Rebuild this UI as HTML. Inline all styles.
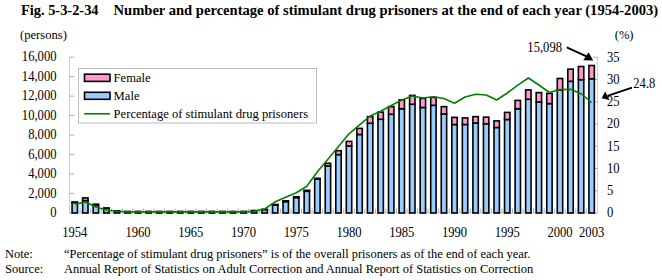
<!DOCTYPE html>
<html><head><meta charset="utf-8"><style>
html,body{margin:0;padding:0;background:#fff;width:662px;height:280px;overflow:hidden}
svg{display:block;font-family:"Liberation Serif",serif;fill:#000}
</style></head><body>
<svg width="662" height="280" viewBox="0 0 662 280">
<line x1="69.5" y1="57.2" x2="69.5" y2="213.0" stroke="#D0D0D0" stroke-width="1"/>
<line x1="597.5" y1="57.2" x2="597.5" y2="213.0" stroke="#D0D0D0" stroke-width="1"/>
<line x1="69.5" y1="213.0" x2="597.5" y2="213.0" stroke="#D0D0D0" stroke-width="1"/>
<line x1="69.5" y1="213.00" x2="74.0" y2="213.00" stroke="#ABABAB" stroke-width="1"/>
<line x1="69.5" y1="193.53" x2="74.0" y2="193.53" stroke="#ABABAB" stroke-width="1"/>
<line x1="69.5" y1="174.05" x2="74.0" y2="174.05" stroke="#ABABAB" stroke-width="1"/>
<line x1="69.5" y1="154.57" x2="74.0" y2="154.57" stroke="#ABABAB" stroke-width="1"/>
<line x1="69.5" y1="135.10" x2="74.0" y2="135.10" stroke="#ABABAB" stroke-width="1"/>
<line x1="69.5" y1="115.62" x2="74.0" y2="115.62" stroke="#ABABAB" stroke-width="1"/>
<line x1="69.5" y1="96.15" x2="74.0" y2="96.15" stroke="#ABABAB" stroke-width="1"/>
<line x1="69.5" y1="76.67" x2="74.0" y2="76.67" stroke="#ABABAB" stroke-width="1"/>
<line x1="69.5" y1="57.20" x2="74.0" y2="57.20" stroke="#ABABAB" stroke-width="1"/>
<line x1="593.0" y1="213.00" x2="597.5" y2="213.00" stroke="#ABABAB" stroke-width="1"/>
<line x1="593.0" y1="190.74" x2="597.5" y2="190.74" stroke="#ABABAB" stroke-width="1"/>
<line x1="593.0" y1="168.49" x2="597.5" y2="168.49" stroke="#ABABAB" stroke-width="1"/>
<line x1="593.0" y1="146.23" x2="597.5" y2="146.23" stroke="#ABABAB" stroke-width="1"/>
<line x1="593.0" y1="123.97" x2="597.5" y2="123.97" stroke="#ABABAB" stroke-width="1"/>
<line x1="593.0" y1="101.71" x2="597.5" y2="101.71" stroke="#ABABAB" stroke-width="1"/>
<line x1="593.0" y1="79.46" x2="597.5" y2="79.46" stroke="#ABABAB" stroke-width="1"/>
<line x1="593.0" y1="57.20" x2="597.5" y2="57.20" stroke="#ABABAB" stroke-width="1"/>
<line x1="80.05" y1="208.5" x2="80.05" y2="213.0" stroke="#ABABAB" stroke-width="1"/>
<line x1="90.60" y1="208.5" x2="90.60" y2="213.0" stroke="#ABABAB" stroke-width="1"/>
<line x1="101.14" y1="208.5" x2="101.14" y2="213.0" stroke="#ABABAB" stroke-width="1"/>
<line x1="111.69" y1="208.5" x2="111.69" y2="213.0" stroke="#ABABAB" stroke-width="1"/>
<line x1="122.24" y1="208.5" x2="122.24" y2="213.0" stroke="#ABABAB" stroke-width="1"/>
<line x1="132.79" y1="208.5" x2="132.79" y2="213.0" stroke="#ABABAB" stroke-width="1"/>
<line x1="143.34" y1="208.5" x2="143.34" y2="213.0" stroke="#ABABAB" stroke-width="1"/>
<line x1="153.88" y1="208.5" x2="153.88" y2="213.0" stroke="#ABABAB" stroke-width="1"/>
<line x1="164.43" y1="208.5" x2="164.43" y2="213.0" stroke="#ABABAB" stroke-width="1"/>
<line x1="174.98" y1="208.5" x2="174.98" y2="213.0" stroke="#ABABAB" stroke-width="1"/>
<line x1="185.53" y1="208.5" x2="185.53" y2="213.0" stroke="#ABABAB" stroke-width="1"/>
<line x1="196.08" y1="208.5" x2="196.08" y2="213.0" stroke="#ABABAB" stroke-width="1"/>
<line x1="206.62" y1="208.5" x2="206.62" y2="213.0" stroke="#ABABAB" stroke-width="1"/>
<line x1="217.17" y1="208.5" x2="217.17" y2="213.0" stroke="#ABABAB" stroke-width="1"/>
<line x1="227.72" y1="208.5" x2="227.72" y2="213.0" stroke="#ABABAB" stroke-width="1"/>
<line x1="238.27" y1="208.5" x2="238.27" y2="213.0" stroke="#ABABAB" stroke-width="1"/>
<line x1="248.82" y1="208.5" x2="248.82" y2="213.0" stroke="#ABABAB" stroke-width="1"/>
<line x1="259.36" y1="208.5" x2="259.36" y2="213.0" stroke="#ABABAB" stroke-width="1"/>
<line x1="269.91" y1="208.5" x2="269.91" y2="213.0" stroke="#ABABAB" stroke-width="1"/>
<line x1="280.46" y1="208.5" x2="280.46" y2="213.0" stroke="#ABABAB" stroke-width="1"/>
<line x1="291.01" y1="208.5" x2="291.01" y2="213.0" stroke="#ABABAB" stroke-width="1"/>
<line x1="301.56" y1="208.5" x2="301.56" y2="213.0" stroke="#ABABAB" stroke-width="1"/>
<line x1="312.10" y1="208.5" x2="312.10" y2="213.0" stroke="#ABABAB" stroke-width="1"/>
<line x1="322.65" y1="208.5" x2="322.65" y2="213.0" stroke="#ABABAB" stroke-width="1"/>
<line x1="333.20" y1="208.5" x2="333.20" y2="213.0" stroke="#ABABAB" stroke-width="1"/>
<line x1="343.75" y1="208.5" x2="343.75" y2="213.0" stroke="#ABABAB" stroke-width="1"/>
<line x1="354.30" y1="208.5" x2="354.30" y2="213.0" stroke="#ABABAB" stroke-width="1"/>
<line x1="364.84" y1="208.5" x2="364.84" y2="213.0" stroke="#ABABAB" stroke-width="1"/>
<line x1="375.39" y1="208.5" x2="375.39" y2="213.0" stroke="#ABABAB" stroke-width="1"/>
<line x1="385.94" y1="208.5" x2="385.94" y2="213.0" stroke="#ABABAB" stroke-width="1"/>
<line x1="396.49" y1="208.5" x2="396.49" y2="213.0" stroke="#ABABAB" stroke-width="1"/>
<line x1="407.04" y1="208.5" x2="407.04" y2="213.0" stroke="#ABABAB" stroke-width="1"/>
<line x1="417.58" y1="208.5" x2="417.58" y2="213.0" stroke="#ABABAB" stroke-width="1"/>
<line x1="428.13" y1="208.5" x2="428.13" y2="213.0" stroke="#ABABAB" stroke-width="1"/>
<line x1="438.68" y1="208.5" x2="438.68" y2="213.0" stroke="#ABABAB" stroke-width="1"/>
<line x1="449.23" y1="208.5" x2="449.23" y2="213.0" stroke="#ABABAB" stroke-width="1"/>
<line x1="459.78" y1="208.5" x2="459.78" y2="213.0" stroke="#ABABAB" stroke-width="1"/>
<line x1="470.32" y1="208.5" x2="470.32" y2="213.0" stroke="#ABABAB" stroke-width="1"/>
<line x1="480.87" y1="208.5" x2="480.87" y2="213.0" stroke="#ABABAB" stroke-width="1"/>
<line x1="491.42" y1="208.5" x2="491.42" y2="213.0" stroke="#ABABAB" stroke-width="1"/>
<line x1="501.97" y1="208.5" x2="501.97" y2="213.0" stroke="#ABABAB" stroke-width="1"/>
<line x1="512.52" y1="208.5" x2="512.52" y2="213.0" stroke="#ABABAB" stroke-width="1"/>
<line x1="523.06" y1="208.5" x2="523.06" y2="213.0" stroke="#ABABAB" stroke-width="1"/>
<line x1="533.61" y1="208.5" x2="533.61" y2="213.0" stroke="#ABABAB" stroke-width="1"/>
<line x1="544.16" y1="208.5" x2="544.16" y2="213.0" stroke="#ABABAB" stroke-width="1"/>
<line x1="554.71" y1="208.5" x2="554.71" y2="213.0" stroke="#ABABAB" stroke-width="1"/>
<line x1="565.26" y1="208.5" x2="565.26" y2="213.0" stroke="#ABABAB" stroke-width="1"/>
<line x1="575.80" y1="208.5" x2="575.80" y2="213.0" stroke="#ABABAB" stroke-width="1"/>
<line x1="586.35" y1="208.5" x2="586.35" y2="213.0" stroke="#ABABAB" stroke-width="1"/>
<rect x="72.07" y="202.50" width="5.4" height="10.50" fill="#99CCFF" stroke="#000" stroke-width="1.6"/>
<rect x="72.07" y="202.10" width="5.4" height="0.40" fill="#FF99CC" stroke="#000" stroke-width="1.6"/>
<rect x="82.62" y="200.60" width="5.4" height="12.40" fill="#99CCFF" stroke="#000" stroke-width="1.6"/>
<rect x="82.62" y="197.90" width="5.4" height="2.70" fill="#FF99CC" stroke="#000" stroke-width="1.6"/>
<rect x="93.17" y="205.40" width="5.4" height="7.60" fill="#99CCFF" stroke="#000" stroke-width="1.6"/>
<rect x="93.17" y="204.20" width="5.4" height="1.20" fill="#FF99CC" stroke="#000" stroke-width="1.6"/>
<rect x="103.72" y="208.20" width="5.4" height="4.80" fill="#99CCFF" stroke="#000" stroke-width="1.6"/>
<rect x="103.72" y="208.10" width="5.4" height="0.10" fill="#FF99CC" stroke="#000" stroke-width="1.6"/>
<rect x="114.27" y="210.80" width="5.4" height="2.20" fill="#99CCFF" stroke="#000" stroke-width="1.6"/>
<rect x="124.81" y="211.40" width="5.4" height="1.60" fill="#99CCFF" stroke="#000" stroke-width="1.6"/>
<rect x="135.36" y="211.40" width="5.4" height="1.60" fill="#99CCFF" stroke="#000" stroke-width="1.6"/>
<rect x="145.91" y="211.40" width="5.4" height="1.60" fill="#99CCFF" stroke="#000" stroke-width="1.6"/>
<rect x="156.46" y="211.40" width="5.4" height="1.60" fill="#99CCFF" stroke="#000" stroke-width="1.6"/>
<rect x="167.01" y="211.40" width="5.4" height="1.60" fill="#99CCFF" stroke="#000" stroke-width="1.6"/>
<rect x="177.55" y="211.40" width="5.4" height="1.60" fill="#99CCFF" stroke="#000" stroke-width="1.6"/>
<rect x="188.10" y="211.40" width="5.4" height="1.60" fill="#99CCFF" stroke="#000" stroke-width="1.6"/>
<rect x="198.65" y="211.40" width="5.4" height="1.60" fill="#99CCFF" stroke="#000" stroke-width="1.6"/>
<rect x="209.20" y="211.40" width="5.4" height="1.60" fill="#99CCFF" stroke="#000" stroke-width="1.6"/>
<rect x="219.75" y="211.40" width="5.4" height="1.60" fill="#99CCFF" stroke="#000" stroke-width="1.6"/>
<rect x="230.29" y="211.40" width="5.4" height="1.60" fill="#99CCFF" stroke="#000" stroke-width="1.6"/>
<rect x="240.84" y="211.40" width="5.4" height="1.60" fill="#99CCFF" stroke="#000" stroke-width="1.6"/>
<rect x="251.39" y="210.50" width="5.4" height="2.50" fill="#99CCFF" stroke="#000" stroke-width="1.6"/>
<rect x="261.94" y="209.60" width="5.4" height="3.40" fill="#99CCFF" stroke="#000" stroke-width="1.6"/>
<rect x="261.94" y="209.40" width="5.4" height="0.20" fill="#FF99CC" stroke="#000" stroke-width="1.6"/>
<rect x="272.49" y="205.20" width="5.4" height="7.80" fill="#99CCFF" stroke="#000" stroke-width="1.6"/>
<rect x="272.49" y="204.40" width="5.4" height="0.80" fill="#FF99CC" stroke="#000" stroke-width="1.6"/>
<rect x="283.03" y="201.60" width="5.4" height="11.40" fill="#99CCFF" stroke="#000" stroke-width="1.6"/>
<rect x="283.03" y="200.80" width="5.4" height="0.80" fill="#FF99CC" stroke="#000" stroke-width="1.6"/>
<rect x="293.58" y="197.60" width="5.4" height="15.40" fill="#99CCFF" stroke="#000" stroke-width="1.6"/>
<rect x="293.58" y="196.70" width="5.4" height="0.90" fill="#FF99CC" stroke="#000" stroke-width="1.6"/>
<rect x="304.13" y="191.30" width="5.4" height="21.70" fill="#99CCFF" stroke="#000" stroke-width="1.6"/>
<rect x="304.13" y="190.30" width="5.4" height="1.00" fill="#FF99CC" stroke="#000" stroke-width="1.6"/>
<rect x="314.68" y="179.00" width="5.4" height="34.00" fill="#99CCFF" stroke="#000" stroke-width="1.6"/>
<rect x="314.68" y="178.30" width="5.4" height="0.70" fill="#FF99CC" stroke="#000" stroke-width="1.6"/>
<rect x="325.23" y="166.00" width="5.4" height="47.00" fill="#99CCFF" stroke="#000" stroke-width="1.6"/>
<rect x="325.23" y="163.30" width="5.4" height="2.70" fill="#FF99CC" stroke="#000" stroke-width="1.6"/>
<rect x="335.77" y="154.60" width="5.4" height="58.40" fill="#99CCFF" stroke="#000" stroke-width="1.6"/>
<rect x="335.77" y="150.70" width="5.4" height="3.90" fill="#FF99CC" stroke="#000" stroke-width="1.6"/>
<rect x="346.32" y="146.00" width="5.4" height="67.00" fill="#99CCFF" stroke="#000" stroke-width="1.6"/>
<rect x="346.32" y="141.40" width="5.4" height="4.60" fill="#FF99CC" stroke="#000" stroke-width="1.6"/>
<rect x="356.87" y="134.50" width="5.4" height="78.50" fill="#99CCFF" stroke="#000" stroke-width="1.6"/>
<rect x="356.87" y="128.40" width="5.4" height="6.10" fill="#FF99CC" stroke="#000" stroke-width="1.6"/>
<rect x="367.42" y="123.25" width="5.4" height="89.75" fill="#99CCFF" stroke="#000" stroke-width="1.6"/>
<rect x="367.42" y="116.65" width="5.4" height="6.60" fill="#FF99CC" stroke="#000" stroke-width="1.6"/>
<rect x="377.97" y="119.25" width="5.4" height="93.75" fill="#99CCFF" stroke="#000" stroke-width="1.6"/>
<rect x="377.97" y="112.15" width="5.4" height="7.10" fill="#FF99CC" stroke="#000" stroke-width="1.6"/>
<rect x="388.51" y="114.25" width="5.4" height="98.75" fill="#99CCFF" stroke="#000" stroke-width="1.6"/>
<rect x="388.51" y="106.65" width="5.4" height="7.60" fill="#FF99CC" stroke="#000" stroke-width="1.6"/>
<rect x="399.06" y="108.75" width="5.4" height="104.25" fill="#99CCFF" stroke="#000" stroke-width="1.6"/>
<rect x="399.06" y="99.90" width="5.4" height="8.85" fill="#FF99CC" stroke="#000" stroke-width="1.6"/>
<rect x="409.61" y="104.25" width="5.4" height="108.75" fill="#99CCFF" stroke="#000" stroke-width="1.6"/>
<rect x="409.61" y="95.40" width="5.4" height="8.85" fill="#FF99CC" stroke="#000" stroke-width="1.6"/>
<rect x="420.16" y="107.50" width="5.4" height="105.50" fill="#99CCFF" stroke="#000" stroke-width="1.6"/>
<rect x="420.16" y="98.40" width="5.4" height="9.10" fill="#FF99CC" stroke="#000" stroke-width="1.6"/>
<rect x="430.71" y="105.30" width="5.4" height="107.70" fill="#99CCFF" stroke="#000" stroke-width="1.6"/>
<rect x="430.71" y="97.40" width="5.4" height="7.90" fill="#FF99CC" stroke="#000" stroke-width="1.6"/>
<rect x="441.25" y="114.00" width="5.4" height="99.00" fill="#99CCFF" stroke="#000" stroke-width="1.6"/>
<rect x="441.25" y="106.65" width="5.4" height="7.35" fill="#FF99CC" stroke="#000" stroke-width="1.6"/>
<rect x="451.80" y="124.50" width="5.4" height="88.50" fill="#99CCFF" stroke="#000" stroke-width="1.6"/>
<rect x="451.80" y="117.40" width="5.4" height="7.10" fill="#FF99CC" stroke="#000" stroke-width="1.6"/>
<rect x="462.35" y="124.50" width="5.4" height="88.50" fill="#99CCFF" stroke="#000" stroke-width="1.6"/>
<rect x="462.35" y="117.90" width="5.4" height="6.60" fill="#FF99CC" stroke="#000" stroke-width="1.6"/>
<rect x="472.90" y="123.00" width="5.4" height="90.00" fill="#99CCFF" stroke="#000" stroke-width="1.6"/>
<rect x="472.90" y="116.65" width="5.4" height="6.35" fill="#FF99CC" stroke="#000" stroke-width="1.6"/>
<rect x="483.45" y="123.75" width="5.4" height="89.25" fill="#99CCFF" stroke="#000" stroke-width="1.6"/>
<rect x="483.45" y="117.15" width="5.4" height="6.60" fill="#FF99CC" stroke="#000" stroke-width="1.6"/>
<rect x="493.99" y="127.50" width="5.4" height="85.50" fill="#99CCFF" stroke="#000" stroke-width="1.6"/>
<rect x="493.99" y="120.90" width="5.4" height="6.60" fill="#FF99CC" stroke="#000" stroke-width="1.6"/>
<rect x="504.54" y="119.50" width="5.4" height="93.50" fill="#99CCFF" stroke="#000" stroke-width="1.6"/>
<rect x="504.54" y="112.40" width="5.4" height="7.10" fill="#FF99CC" stroke="#000" stroke-width="1.6"/>
<rect x="515.09" y="108.75" width="5.4" height="104.25" fill="#99CCFF" stroke="#000" stroke-width="1.6"/>
<rect x="515.09" y="100.40" width="5.4" height="8.35" fill="#FF99CC" stroke="#000" stroke-width="1.6"/>
<rect x="525.64" y="99.25" width="5.4" height="113.75" fill="#99CCFF" stroke="#000" stroke-width="1.6"/>
<rect x="525.64" y="89.90" width="5.4" height="9.35" fill="#FF99CC" stroke="#000" stroke-width="1.6"/>
<rect x="536.19" y="102.00" width="5.4" height="111.00" fill="#99CCFF" stroke="#000" stroke-width="1.6"/>
<rect x="536.19" y="92.60" width="5.4" height="9.40" fill="#FF99CC" stroke="#000" stroke-width="1.6"/>
<rect x="546.73" y="103.60" width="5.4" height="109.40" fill="#99CCFF" stroke="#000" stroke-width="1.6"/>
<rect x="546.73" y="93.40" width="5.4" height="10.20" fill="#FF99CC" stroke="#000" stroke-width="1.6"/>
<rect x="557.28" y="89.80" width="5.4" height="123.20" fill="#99CCFF" stroke="#000" stroke-width="1.6"/>
<rect x="557.28" y="78.50" width="5.4" height="11.30" fill="#FF99CC" stroke="#000" stroke-width="1.6"/>
<rect x="567.83" y="81.30" width="5.4" height="131.70" fill="#99CCFF" stroke="#000" stroke-width="1.6"/>
<rect x="567.83" y="69.15" width="5.4" height="12.15" fill="#FF99CC" stroke="#000" stroke-width="1.6"/>
<rect x="578.38" y="79.70" width="5.4" height="133.30" fill="#99CCFF" stroke="#000" stroke-width="1.6"/>
<rect x="578.38" y="66.50" width="5.4" height="13.20" fill="#FF99CC" stroke="#000" stroke-width="1.6"/>
<rect x="588.93" y="78.75" width="5.4" height="134.25" fill="#99CCFF" stroke="#000" stroke-width="1.6"/>
<rect x="588.93" y="65.50" width="5.4" height="13.25" fill="#FF99CC" stroke="#000" stroke-width="1.6"/>
<polyline points="74.77,204.30 85.32,202.10 95.87,207.00 106.42,210.00 116.97,211.20 127.51,211.90 138.06,211.90 148.61,211.90 159.16,211.90 169.71,211.90 180.25,211.90 190.80,211.90 201.35,211.90 211.90,211.90 222.45,211.90 232.99,211.90 243.54,211.90 254.09,211.30 264.64,209.00 275.19,201.80 285.73,197.30 296.28,192.80 306.83,186.30 317.38,171.70 327.93,159.20 338.47,146.60 349.02,133.80 359.57,124.80 370.12,116.00 380.67,111.25 391.21,105.50 401.76,100.00 412.31,96.00 422.86,98.00 433.41,96.80 443.95,98.50 454.50,103.20 465.05,97.00 475.60,94.25 486.15,95.00 496.69,100.00 507.24,93.00 517.79,85.20 528.34,78.00 538.89,85.00 549.43,92.50 559.98,89.50 570.53,89.30 581.08,93.75 591.63,102.50" fill="none" stroke="#008000" stroke-width="1.6" stroke-linejoin="round"/>
<text x="21.0" y="14.9" text-anchor="start" font-size="14.4" font-weight="bold">Fig. 5-3-2-34</text>
<text x="113.5" y="14.9" text-anchor="start" font-size="14.58" font-weight="bold">Number and percentage of stimulant drug prisoners at the end of each year (1954-2003)</text>
<text x="20.0" y="39.1" text-anchor="start" font-size="12.6" font-weight="normal">(persons)</text>
<text x="614.7" y="38.8" text-anchor="start" font-size="12.6" font-weight="normal">(%)</text>
<text transform="translate(56.5 217.2) scale(1 1.1)" text-anchor="end" font-size="12.6" font-weight="normal">0</text>
<text transform="translate(56.5 197.725) scale(1 1.1)" text-anchor="end" font-size="12.6" font-weight="normal">2,000</text>
<text transform="translate(56.5 178.25) scale(1 1.1)" text-anchor="end" font-size="12.6" font-weight="normal">4,000</text>
<text transform="translate(56.5 158.77499999999998) scale(1 1.1)" text-anchor="end" font-size="12.6" font-weight="normal">6,000</text>
<text transform="translate(56.5 139.29999999999998) scale(1 1.1)" text-anchor="end" font-size="12.6" font-weight="normal">8,000</text>
<text transform="translate(56.5 119.82499999999999) scale(1 1.1)" text-anchor="end" font-size="12.6" font-weight="normal">10,000</text>
<text transform="translate(56.5 100.34999999999998) scale(1 1.1)" text-anchor="end" font-size="12.6" font-weight="normal">12,000</text>
<text transform="translate(56.5 80.87499999999999) scale(1 1.1)" text-anchor="end" font-size="12.6" font-weight="normal">14,000</text>
<text transform="translate(56.5 61.39999999999999) scale(1 1.1)" text-anchor="end" font-size="12.6" font-weight="normal">16,000</text>
<text transform="translate(607.0 217.4) scale(1 1.1)" text-anchor="start" font-size="12.6" font-weight="normal">0</text>
<text transform="translate(607.0 195.14285714285714) scale(1 1.1)" text-anchor="start" font-size="12.6" font-weight="normal">5</text>
<text transform="translate(607.0 172.88571428571427) scale(1 1.1)" text-anchor="start" font-size="12.6" font-weight="normal">10</text>
<text transform="translate(607.0 150.62857142857143) scale(1 1.1)" text-anchor="start" font-size="12.6" font-weight="normal">15</text>
<text transform="translate(607.0 128.37142857142857) scale(1 1.1)" text-anchor="start" font-size="12.6" font-weight="normal">20</text>
<text transform="translate(607.0 106.1142857142857) scale(1 1.1)" text-anchor="start" font-size="12.6" font-weight="normal">25</text>
<text transform="translate(607.0 83.85714285714286) scale(1 1.1)" text-anchor="start" font-size="12.6" font-weight="normal">30</text>
<text transform="translate(607.0 61.59999999999999) scale(1 1.1)" text-anchor="start" font-size="12.6" font-weight="normal">35</text>
<text transform="translate(74.77 236.9) scale(1 1.1)" text-anchor="middle" font-size="12.6" font-weight="normal">1954</text>
<text transform="translate(138.06 236.9) scale(1 1.1)" text-anchor="middle" font-size="12.6" font-weight="normal">1960</text>
<text transform="translate(190.80 236.9) scale(1 1.1)" text-anchor="middle" font-size="12.6" font-weight="normal">1965</text>
<text transform="translate(243.54 236.9) scale(1 1.1)" text-anchor="middle" font-size="12.6" font-weight="normal">1970</text>
<text transform="translate(296.28 236.9) scale(1 1.1)" text-anchor="middle" font-size="12.6" font-weight="normal">1975</text>
<text transform="translate(349.02 236.9) scale(1 1.1)" text-anchor="middle" font-size="12.6" font-weight="normal">1980</text>
<text transform="translate(401.76 236.9) scale(1 1.1)" text-anchor="middle" font-size="12.6" font-weight="normal">1985</text>
<text transform="translate(454.50 236.9) scale(1 1.1)" text-anchor="middle" font-size="12.6" font-weight="normal">1990</text>
<text transform="translate(507.24 236.9) scale(1 1.1)" text-anchor="middle" font-size="12.6" font-weight="normal">1995</text>
<text transform="translate(559.98 236.9) scale(1 1.1)" text-anchor="middle" font-size="12.6" font-weight="normal">2000</text>
<text transform="translate(591.63 236.9) scale(1 1.1)" text-anchor="middle" font-size="12.6" font-weight="normal">2003</text>
<text transform="translate(562.0 52.1) scale(1 1.1)" text-anchor="end" font-size="12.6" font-weight="normal">15,098</text>
<text transform="translate(633.3 87.8) scale(1 1.1)" text-anchor="start" font-size="12.6" font-weight="normal">24.8</text>
<line x1="566.8" y1="47.4" x2="587" y2="56.6" stroke="#000" stroke-width="1.8"/>
<polygon points="593.2,60.4 583.3,60.3 588.6,52.3" fill="#000"/>
<line x1="632" y1="87.6" x2="607.5" y2="95.8" stroke="#000" stroke-width="1.8"/>
<polygon points="601.6,98.3 605.2,91.4 609.6,99.9" fill="#000"/>
<rect x="78.5" y="68.5" width="238" height="54.5" fill="#fff" stroke="#BBBBBB" stroke-width="1"/>
<rect x="84.5" y="74.2" width="25.5" height="7.2" fill="#FF99CC" stroke="#000" stroke-width="1.6"/>
<rect x="84.5" y="92.3" width="25.5" height="7.0" fill="#99CCFF" stroke="#000" stroke-width="1.6"/>
<line x1="84.25" y1="113.75" x2="110" y2="113.75" stroke="#008000" stroke-width="1.6"/>
<text x="113.6" y="81.5" text-anchor="start" font-size="12.6" font-weight="normal">Female</text>
<text x="113.6" y="99.9" text-anchor="start" font-size="12.6" font-weight="normal">Male</text>
<text x="113.6" y="118.3" text-anchor="start" font-size="12.6" font-weight="normal">Percentage of stimulant drug prisoners</text>
<text x="5.0" y="258.2" text-anchor="start" font-size="12.5" font-weight="normal">Note:</text>
<text x="64.0" y="258.2" text-anchor="start" font-size="12.48" font-weight="normal">“Percentage of stimulant drug prisoners” is of the overall prisoners as of the end of each year.</text>
<text x="5.0" y="272.7" text-anchor="start" font-size="12.5" font-weight="normal">Source:</text>
<text x="64.0" y="272.7" text-anchor="start" font-size="12.47" font-weight="normal">Annual Report of Statistics on Adult Correction and Annual Report of Statistics on Correction</text>
</svg>
</body></html>
